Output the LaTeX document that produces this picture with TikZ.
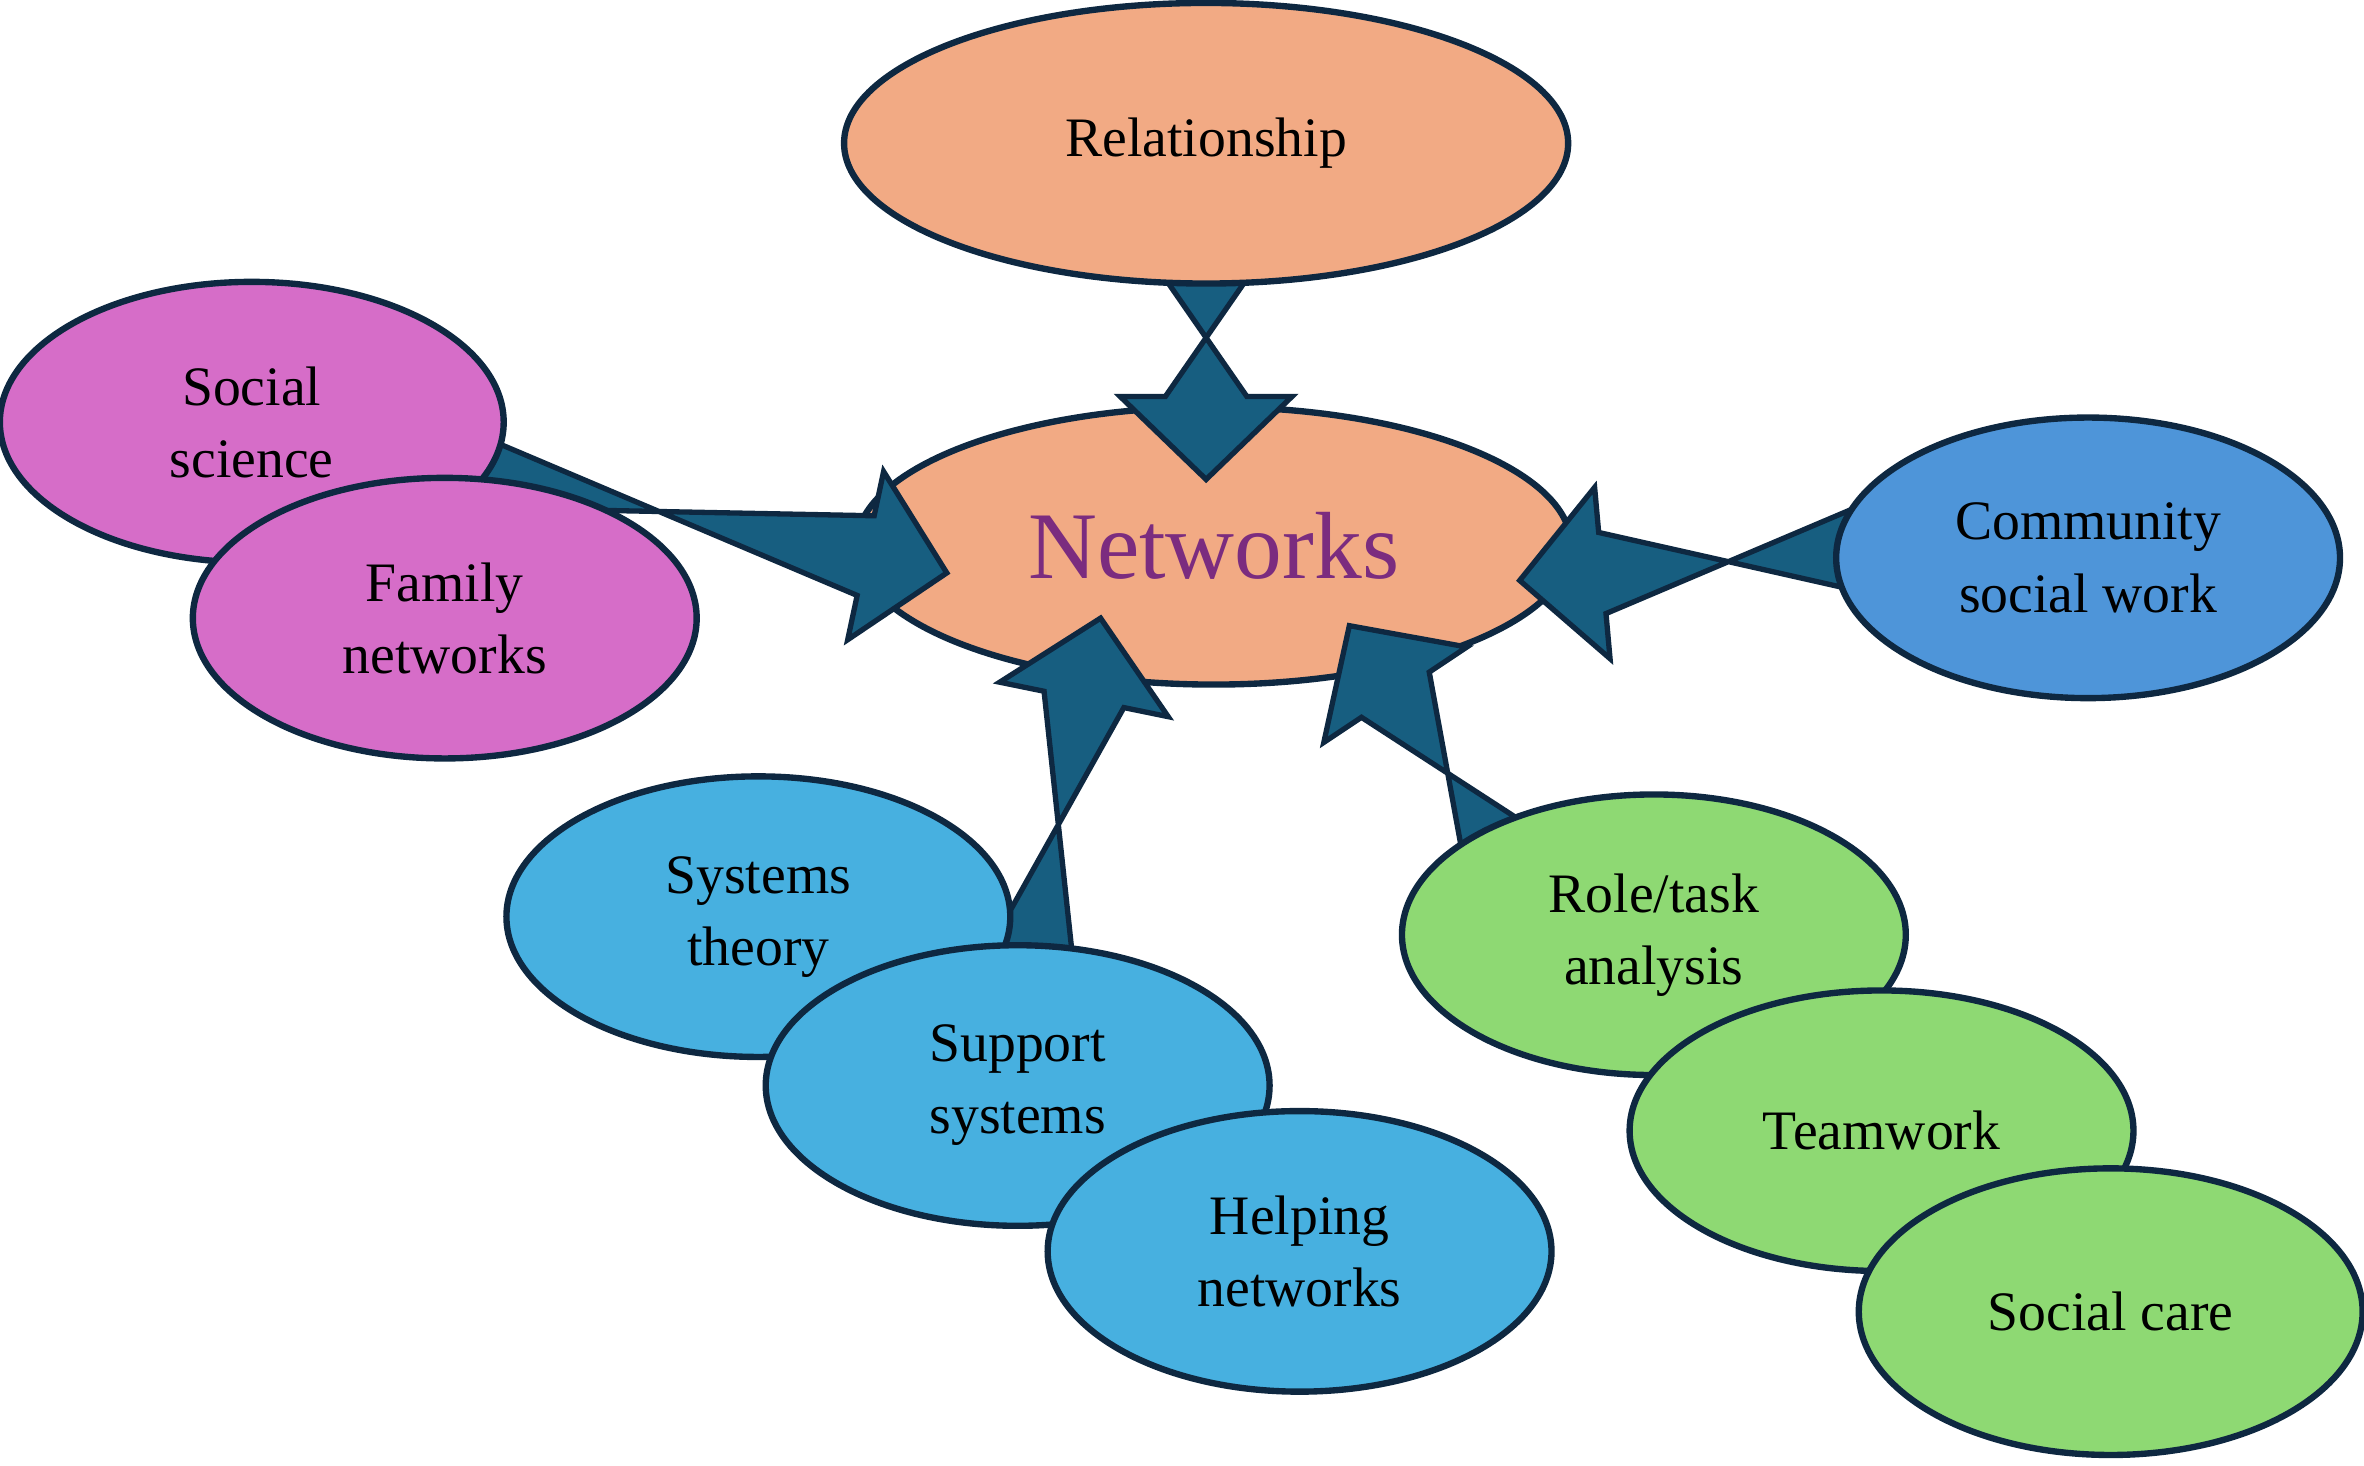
\documentclass[tikz,border=0pt]{standalone}
\usepackage{fontspec}
\setmainfont{Liberation Serif}
\usetikzlibrary{shapes.geometric,calc}
\definecolor{peach}{HTML}{F2AA84}
\definecolor{orchid}{HTML}{D66DC8}
\definecolor{cblue}{HTML}{4E95D9}
\definecolor{sky}{HTML}{47B0E0}
\definecolor{leaf}{HTML}{8ED973}
\definecolor{arrowblue}{HTML}{175E80}
\definecolor{rim}{HTML}{0E2841}
\definecolor{plum}{HTML}{7B2C7F}
\tikzset{
  topic/.style={ellipse,draw=rim,line width=1.2pt,minimum width=3.34cm,minimum height=1.86cm,
    align=center,font=\fontsize{10.5}{13.6}\selectfont},
  bigarrow/.style={fill=arrowblue,draw=rim,line width=1pt,line join=miter}
}
% block arrow from #1 to #2
\newcommand\blockarrow[2]{%
  \coordinate (h) at ($(#2)!0.55cm!(#1)$);
  \draw[bigarrow] ($(#1)!0.27cm!90:(#2)$) -- ($(h)!0.27cm!-90:(#2)$) -- ($(h)!0.57cm!-90:(#2)$)
    -- (#2) -- ($(h)!0.57cm!90:(#2)$) -- ($(h)!0.27cm!90:(#2)$) -- ($(#1)!0.27cm!-90:(#2)$) -- cycle;}
\begin{document}
\begin{tikzpicture}[x=0.01cm,y=-0.01cm]
\useasboundingbox (0,0) rectangle (1568,972);
\node[topic,fill=peach,minimum width=4.74cm,minimum height=1.84cm] (net) at (805,362)
  {\fontsize{18}{20}\selectfont\color{plum}Networks};
% arrows
\coordinate (relS) at (800,185); \coordinate (relT) at (800,318);
\coordinate (socS) at (300,310); \coordinate (socT) at (628,380);
\coordinate (comS) at (1230,365); \coordinate (comT) at (1008,385);
\coordinate (supS) at (685,630); \coordinate (supT) at (730,410);
\coordinate (rolS) at (995,565); \coordinate (rolT) at (895,415);
\foreach \s/\t in {relS/relT,socS/socT,comS/comT,supS/supT,rolS/rolT}
  \blockarrow{\s}{\t};
\node[topic,fill=peach,minimum width=4.8cm] (rel) at (800,95) {Relationship};
\node[topic,fill=orchid] (soc) at (167,280) {Social\\science};
\node[topic,fill=orchid] (fam) at (295,410) {Family\\networks};
\node[topic,fill=cblue] (com) at (1385,370) {Community\\social work};
\node[topic,fill=sky] (sys) at (503,608) {Systems\\theory};
\node[topic,fill=sky] (sup) at (675,720) {Support\\systems};
\node[topic,fill=sky] (hel) at (862,830) {Helping\\networks};
\node[topic,fill=leaf] (rol) at (1097,620) {Role/task\\analysis};
\node[topic,fill=leaf] (tea) at (1248,750) {Teamwork};
\node[topic,fill=leaf,minimum height=1.9cm] (car) at (1400,870) {Social care};
\end{tikzpicture}
\end{document}
